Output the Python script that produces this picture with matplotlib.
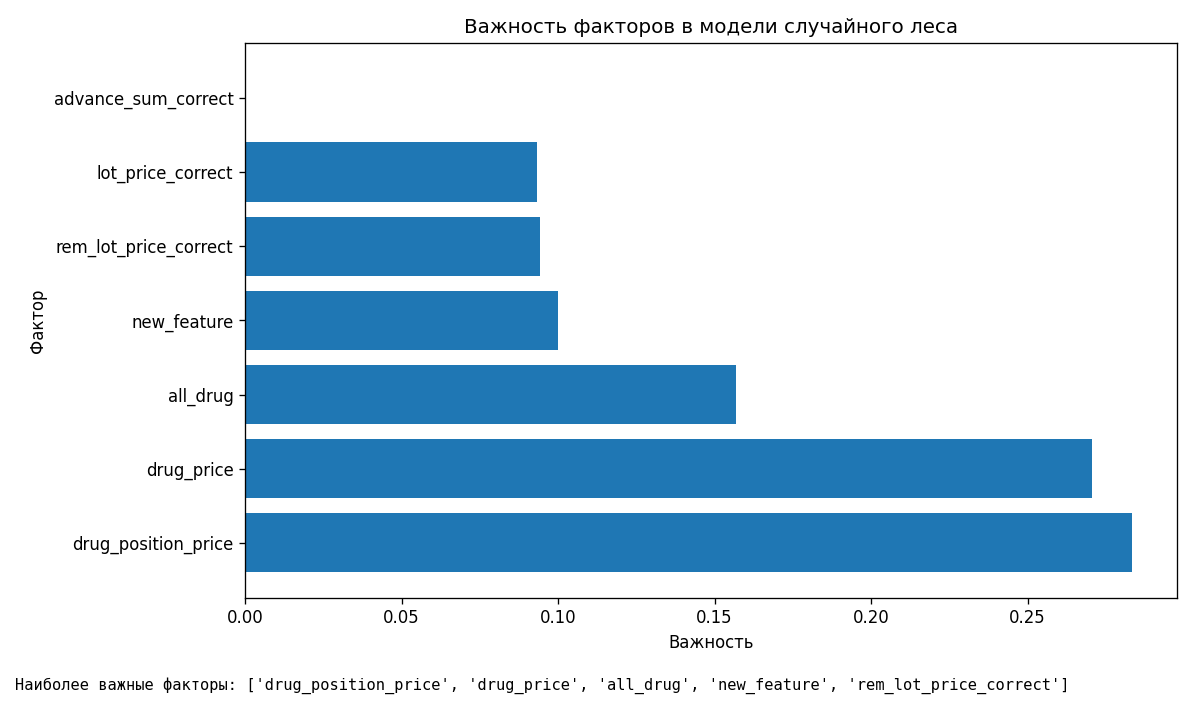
import matplotlib.pyplot as plt

# --- Data ---
features = ['drug_position_price', 'drug_price', 'all_drug', 'new_feature',
            'rem_lot_price_correct', 'lot_price_correct', 'advance_sum_correct']
importances = [0.2835, 0.2707, 0.1568, 0.0999, 0.0941, 0.0933, 0.0]
top_features = ['drug_position_price', 'drug_price', 'all_drug', 'new_feature',
                'rem_lot_price_correct']

DPI = 119  # the notebook image is rendered a bit larger than 100 dpi


def main():
    fig = plt.figure(figsize=(1185 / DPI, 704 / DPI), dpi=DPI)
    ax = fig.add_axes([245 / 1185, 1 - 597.7 / 704, (1176.8 - 245) / 1185, (597.7 - 43) / 704])

    ax.barh(features, importances, color='#1f77b4')
    ax.set_title('Важность факторов в модели случайного леса')
    ax.set_xlabel('Важность')
    ax.set_ylabel('Фактор')

    # printed output of the notebook cell
    fig.text(15 / 1185, 1 - 686 / 704, 'Наиболее важные факторы: ' + str(top_features),
             family='DejaVu Sans Mono', fontsize=9.3, va='center', ha='left')

    fig.savefig('out.png', dpi=DPI)


if __name__ == '__main__':
    main()
